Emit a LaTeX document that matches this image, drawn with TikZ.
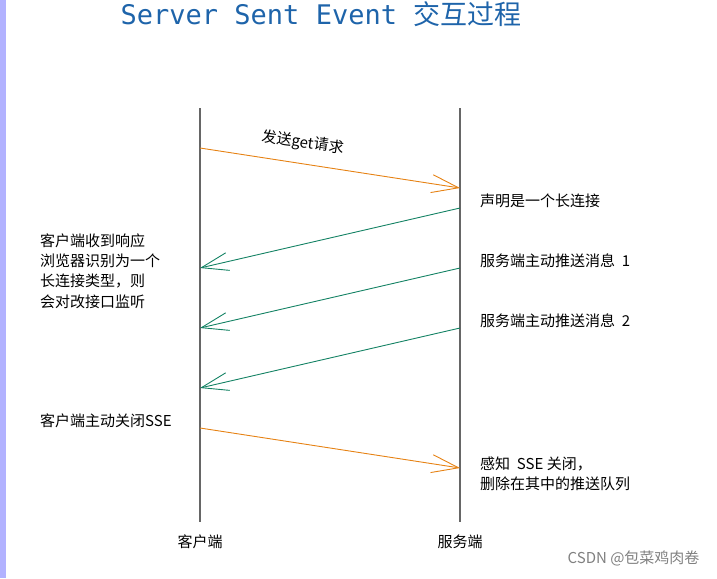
\documentclass[tikz,border=0pt]{standalone}
\usepackage{fontspec}
\setmainfont{Noto Sans CJK SC}
\newfontfamily\monof{DejaVu Sans Mono}
\usetikzlibrary{arrows.meta}
\definecolor{orng}{RGB}{230,130,20}
\definecolor{grn}{RGB}{20,130,100}
\definecolor{ttl}{RGB}{30,100,170}
\begin{document}
\begin{tikzpicture}[x=1pt,y=-1pt,
  life/.style={draw=gray!80!black,line width=1.2pt},
  req/.style={draw=orng,line width=0.9pt,-{Straight Barb[length=27pt,width=18pt]}},
  resp/.style={draw=grn,line width=0.9pt,-{Straight Barb[length=27pt,width=18pt]}},
  lbl/.style={font=\fontsize{15}{20.3}\selectfont,anchor=west,inner sep=0,align=left}]
\useasboundingbox (0,0) rectangle (717,578);
\fill[blue!30] (0,0) rectangle (6,578);
\node[font=\monof\fontsize{27}{30}\selectfont,text=ttl] (title) at (321,14) {Server Sent Event \textrm{交互过程}};
\coordinate (c0) at (200,108); \coordinate (c1) at (200,522);
\coordinate (s0) at (460,108); \coordinate (s1) at (460,522);
\draw[life] (c0) -- (c1);
\draw[life] (s0) -- (s1);
\coordinate (a1) at (200,148); \coordinate (b1) at (460,188);
\coordinate (a2) at (460,208); \coordinate (b2) at (200,268);
\coordinate (a3) at (460,268); \coordinate (b3) at (200,328);
\coordinate (a4) at (460,328); \coordinate (b4) at (200,388);
\coordinate (a5) at (200,428); \coordinate (b5) at (460,468);
\draw[req] (a1) -- (b1);
\draw[resp] (a2) -- (b2);
\draw[resp] (a3) -- (b3);
\draw[resp] (a4) -- (b4);
\draw[req] (a5) -- (b5);
\node[font=\fontsize{15}{20}\selectfont,rotate=-8] (t1) at (303,143) {发送get请求};
\node[lbl] (t2) at (480,201) {声明是一个长连接};
\node[lbl] (t3) at (40,271) {客户端收到响应\\浏览器识别为一个\\长连接类型，则\\会对改接口监听};
\node[lbl] (t4) at (480,261) {服务端主动推送消息\ \ 1};
\node[lbl] (t5) at (480,321) {服务端主动推送消息\ \ 2};
\node[lbl] (t6) at (40,421) {客户端主动关闭SSE};
\node[lbl] (t7) at (480,474) {感知\ \ SSE\ 关闭，\\删除在其中的推送队列};
\node[font=\fontsize{15}{20}\selectfont] (l1) at (200,542) {客户端};
\node[font=\fontsize{15}{20}\selectfont] (l2) at (460,542) {服务端};
\node[font=\fontsize{15}{20}\selectfont,text=gray,anchor=east] (wm) at (703,558) {CSDN @包菜鸡肉卷};
\end{tikzpicture}
\end{document}
